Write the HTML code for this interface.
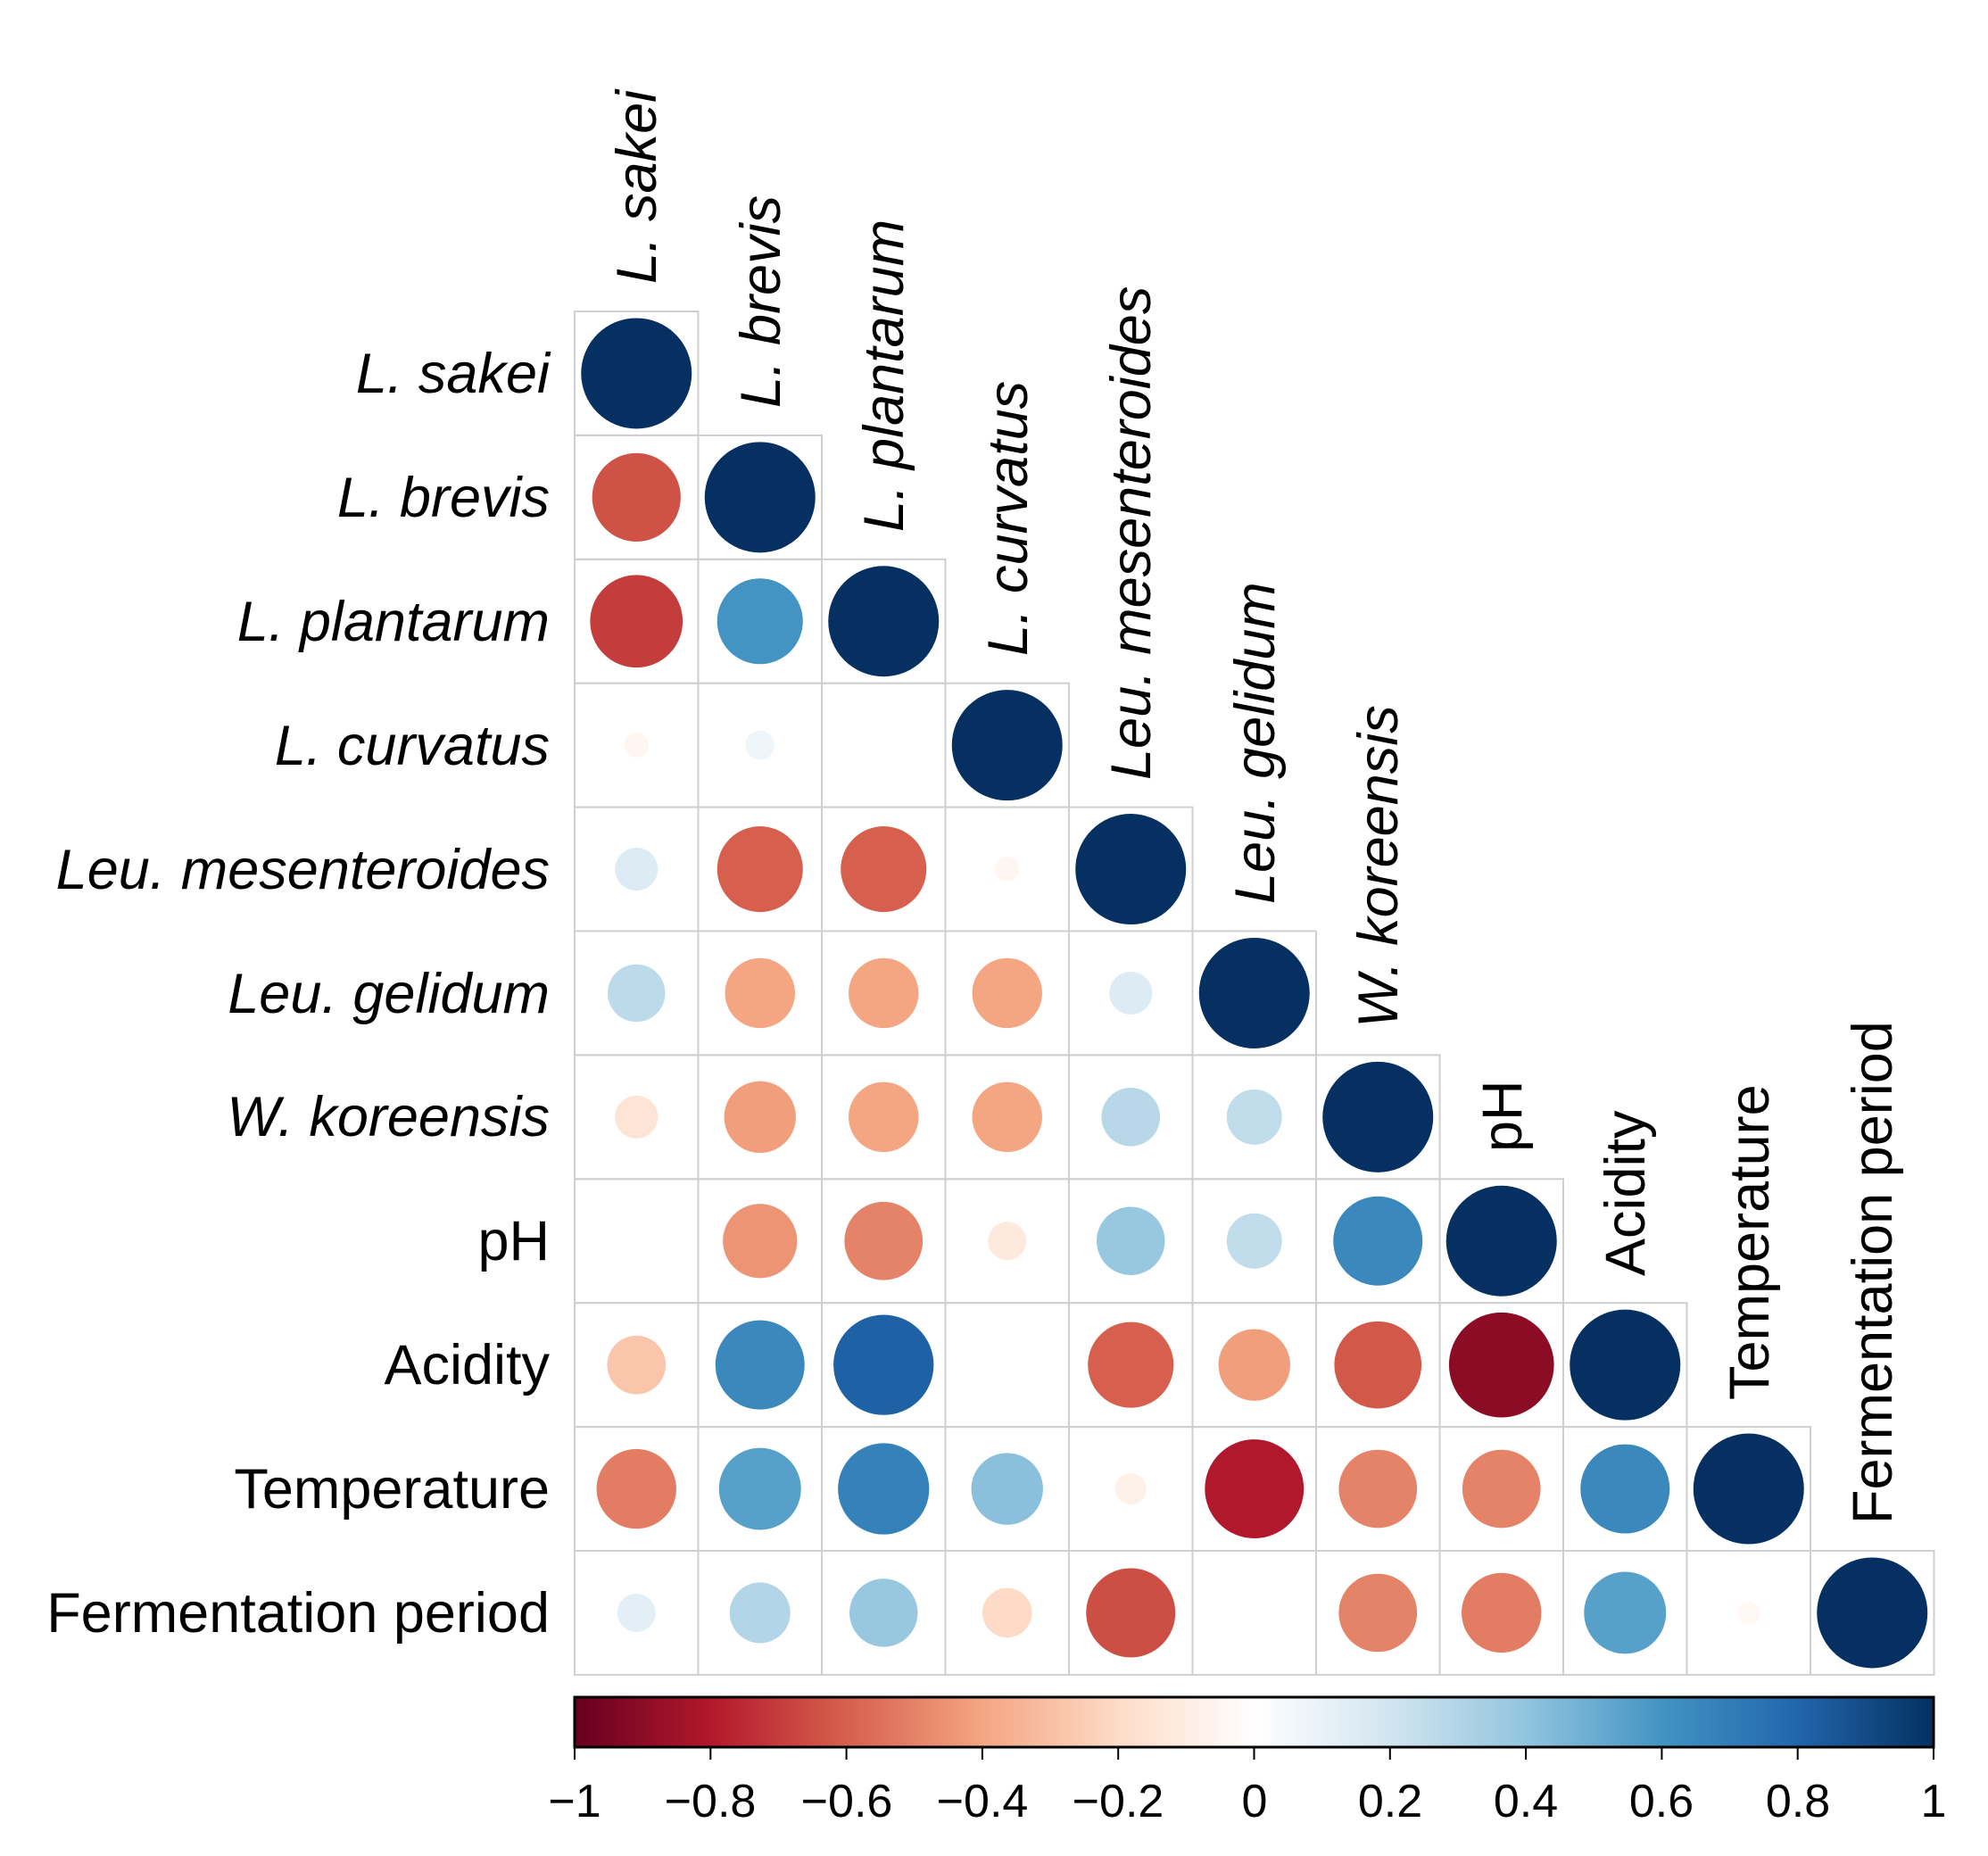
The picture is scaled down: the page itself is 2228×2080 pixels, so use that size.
<!DOCTYPE html>
<html><head><meta charset="utf-8"><style>html,body{margin:0;padding:0;background:#fff}svg{display:block}</style></head>
<body>
<svg id="s" width="2228" height="2080" xmlns="http://www.w3.org/2000/svg" font-family="Liberation Sans, Arial, sans-serif">
<defs>
<linearGradient id="g" x1="0" x2="1" y1="0" y2="0">
<stop offset="0" stop-color="#67001F"/><stop offset="0.1" stop-color="#B2182B"/><stop offset="0.2" stop-color="#D6604D"/><stop offset="0.3" stop-color="#F4A582"/><stop offset="0.4" stop-color="#FDDBC7"/><stop offset="0.5" stop-color="#FFFFFF"/><stop offset="0.6" stop-color="#D1E5F0"/><stop offset="0.7" stop-color="#92C5DE"/><stop offset="0.8" stop-color="#4393C3"/><stop offset="0.9" stop-color="#2166AC"/><stop offset="1" stop-color="#053061"/>
</linearGradient>
</defs>
<g id="cells"></g>
<g font-size="63" text-anchor="end" fill="#000">
<text x="616" y="440" font-style="italic">L. sakei</text>
<text x="616" y="579" font-style="italic">L. brevis</text>
<text x="616" y="718" font-style="italic">L. plantarum</text>
<text x="616" y="857" font-style="italic">L. curvatus</text>
<text x="616" y="996" font-style="italic">Leu. mesenteroides</text>
<text x="616" y="1135" font-style="italic">Leu. gelidum</text>
<text x="616" y="1273" font-style="italic">W. koreensis</text>
<text x="616" y="1412">pH</text>
<text x="616" y="1551">Acidity</text>
<text x="616" y="1690">Temperature</text>
<text x="616" y="1829">Fermentation period</text>
</g>
<g font-size="63" fill="#000">
<text transform="translate(735,318) rotate(-90)" font-style="italic">L. sakei</text>
<text transform="translate(874,457) rotate(-90)" font-style="italic">L. brevis</text>
<text transform="translate(1012,596) rotate(-90)" font-style="italic">L. plantarum</text>
<text transform="translate(1151,735) rotate(-90)" font-style="italic">L. curvatus</text>
<text transform="translate(1289,874) rotate(-90)" font-style="italic">Leu. mesenteroides</text>
<text transform="translate(1428,1013) rotate(-90)" font-style="italic">Leu. gelidum</text>
<text transform="translate(1566,1152) rotate(-90)" font-style="italic">W. koreensis</text>
<text transform="translate(1705,1291) rotate(-90)">pH</text>
<text transform="translate(1843,1430) rotate(-90)">Acidity</text>
<text transform="translate(1982,1569) rotate(-90)">Temperature</text>
<text transform="translate(2120,1708) rotate(-90)">Fermentation period</text>
</g>
<rect x="644" y="1902" width="1523" height="56" fill="url(#g)" stroke="#000" stroke-width="3"/>
<g id="ticks" stroke="#000" stroke-width="2"></g>
<g font-size="52" text-anchor="middle" fill="#000">
<text x="644" y="2036">−1</text><text x="796" y="2036">−0.8</text><text x="949" y="2036">−0.6</text><text x="1101" y="2036">−0.4</text><text x="1253" y="2036">−0.2</text><text x="1406" y="2036">0</text><text x="1558" y="2036">0.2</text><text x="1710" y="2036">0.4</text><text x="1862" y="2036">0.6</text><text x="2015" y="2036">0.8</text><text x="2167" y="2036">1</text>
</g>
</svg>
<script>
var C=["#67001F","#B2182B","#D6604D","#F4A582","#FDDBC7","#FFFFFF","#D1E5F0","#92C5DE","#4393C3","#2166AC","#053061"];
function h(c){return [parseInt(c.substr(1,2),16),parseInt(c.substr(3,2),16),parseInt(c.substr(5,2),16)];}
function col(v){var t=(v+1)*5,i=Math.min(9,Math.floor(t)),f=t-i,a=h(C[i]),b=h(C[i+1]);return "rgb("+a.map(function(x,k){return Math.round(x+(b[k]-x)*f)}).join(",")+")";}
var D=[[1],[-0.64,1],[-0.7,0.6,1],[-0.05,0.07,0,1],[0.15,-0.6,-0.6,-0.05,1],[0.27,-0.4,-0.4,-0.4,0.15,1],[-0.15,-0.42,-0.4,-0.4,0.28,0.25,1],[0,-0.45,-0.5,-0.12,0.38,0.25,0.65,1],[-0.28,0.65,0.82,0,-0.6,-0.42,-0.62,-0.9,1],[-0.52,0.55,0.68,0.42,-0.08,-0.8,-0.5,-0.5,0.65,1],[0.12,0.3,0.38,-0.2,-0.65,0,-0.5,-0.52,0.55,-0.04,1]];
var X0=644,Y0=349,W=138.5,H=138.9,s="";
for(var i=0;i<11;i++)for(var j=0;j<=i;j++){var x=X0+j*W,y=Y0+i*H,v=D[i][j];
s+='<rect x="'+x+'" y="'+y+'" width="'+W+'" height="'+H+'" fill="none" stroke="#cfcfcf" stroke-width="2"/>';
if(Math.abs(v)>0.005)s+='<circle cx="'+(x+W/2)+'" cy="'+(y+H/2)+'" r="'+(62*Math.sqrt(Math.abs(v)))+'" fill="'+col(v)+'"/>';}
document.getElementById("cells").innerHTML=s;
var t="";for(var k=0;k<=10;k++){var x=644+k*152.3;t+='<line x1="'+x+'" x2="'+x+'" y1="1958" y2="1972"/>';}
document.getElementById("ticks").innerHTML=t;
</script>
</body></html>
